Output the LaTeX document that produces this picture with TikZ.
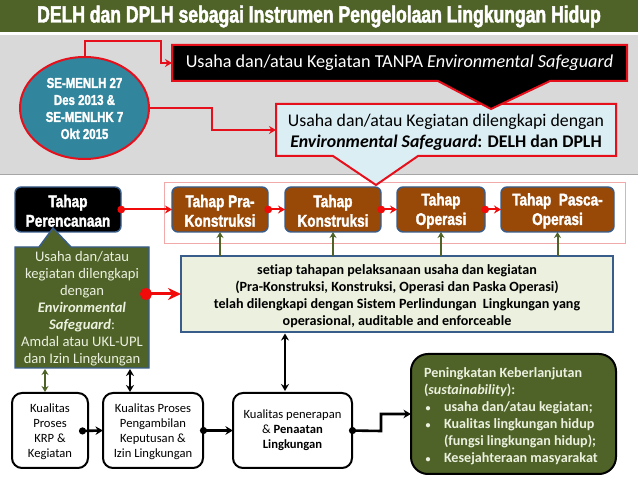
\documentclass[tikz,border=0pt]{standalone}
\usepackage{fontspec}
\setmainfont{Carlito}[Ligatures=NoCommon]
\newfontfamily\cond[FakeStretch=0.75,FakeBold=2]{Liberation Sans Bold}
\newfontfamily\condbox[FakeStretch=0.8,FakeBold=1.8]{Liberation Sans Bold}
\usetikzlibrary{arrows.meta,calc}
\definecolor{olive}{HTML}{4F6228}
\definecolor{panel}{HTML}{D9D9D9}
\definecolor{teal}{HTML}{31859C}
\definecolor{redline}{HTML}{E5101C}
\definecolor{redarrow}{HTML}{F00A0A}
\definecolor{paleblue}{HTML}{DBEEF4}
\definecolor{brown}{HTML}{984807}
\definecolor{steel}{HTML}{385D8A}
\definecolor{palegreen}{HTML}{EBF1DE}
\definecolor{framepink}{HTML}{F2A9A9}
\tikzset{
  x=1pt,y=-1pt,
  every node/.style={inner sep=0pt,outer sep=0pt},
  cond text/.style={text=white,align=center,font=\condbox\fontsize{17}{19.5}\selectfont},
  stagebox/.style={rounded corners=6pt,draw=steel,line width=1.4pt,minimum height=45pt,cond text},
  brownbox/.style={stagebox,fill=brown},
  whitebox/.style={draw=black,line width=2pt,rounded corners=10pt,fill=white,minimum height=75pt,align=center,font=\fontsize{12.6}{15}\selectfont},
  redconn/.style={draw=redline,line width=2pt,-{Stealth[length=7pt,width=8pt]}},
  dotarrow/.style={draw=redarrow,line width=2pt,{Circle[length=7.5pt]}-{Stealth[length=7pt,width=8pt]}},
  olivearrow/.style={draw=olive,line width=2pt,-{Stealth[length=6pt,width=7pt]}},
  olivedouble/.style={draw=olive,line width=2pt,{Stealth[length=6pt,width=7pt]}-{Stealth[length=6pt,width=7pt]}},
  blackdouble/.style={draw=black,line width=2.6pt,{Stealth[length=7pt,width=8pt]}-{Stealth[length=7pt,width=8pt]}},
  blackflow/.style={draw=black,line width=2.6pt,{Circle[length=7pt]}-{Stealth[length=7.5pt,width=8.5pt]}},
}
\newcommand{\bul}{\makebox[20pt][l]{\hspace{1.5pt}\fontsize{10}{10}\selectfont •}}
\newcommand{\toplift}[1]{\rule{0pt}{#1}}
\begin{document}
\begin{tikzpicture}
\useasboundingbox (0,0) rectangle (638,478);
\fill[white] (0,0) rectangle (638,478);
% title band and panel
\fill[olive] (0,0) rectangle (638,32);
\node (title) at (319,16.5) {\cond\fontsize{23.4}{25}\selectfont\textcolor{white}{DELH dan DPLH sebagai Instrumen Pengelolaan Lingkungan Hidup}};
\fill[panel] (0,35) rectangle (638,174);
\fill[black!35] (0,174) rectangle (638,175.5);
% pink frame
\node[draw=framepink,line width=.9pt,fill=white,minimum width=461pt,minimum height=61pt] (frame) at (394.5,212.5) {};
% blue callout
\filldraw[fill=paleblue,draw=redline,line width=2pt,line join=miter]
  (276,104) -- (616,104) -- (616,156) -- (418,156) -- (376,185) -- (333,156) -- (276,156) -- cycle;
\node[align=center,font=\fontsize{17.8}{21}\selectfont] (safe) at (446,130) [minimum width=340pt,minimum height=52pt]
  {\toplift{17pt}Usaha dan/atau Kegiatan dilengkapi dengan\\\textbf{\textit{Environmental Safeguard}: DELH dan DPLH}};
% black callout
\filldraw[fill=black,draw=redline,line width=2pt,line join=miter]
  (172,45) -- (627,45) -- (627,81) -- (550,81) -- (491,109) -- (438,81) -- (172,81) -- cycle;
\node[text=white,font=\fontsize{18.2}{21}\selectfont,minimum width=455pt,minimum height=36pt] (nosafe) at (399.5,63)
  {Usaha dan/atau Kegiatan TANPA \textit{Environmental Safeguard}};
% ellipse
\draw[fill=teal,draw=redline,line width=2pt] (84.5,108) ellipse [x radius=64.5,y radius=51];
\node[minimum width=129pt,minimum height=102pt,text=white,align=center,font=\condbox\fontsize{14.3}{17}\selectfont] (se) at (84.5,108.5)
  {SE-MENLH 27\\Des 2013 \&\\SE-MENLHK 7\\Okt 2015};
\coordinate (setop) at (84.5,57);
\coordinate (seright) at (149,108);
\draw[redconn] (setop) -- (84.5,41) -- (161,41) -- (161,63) -- (nosafe.west);
\draw[redconn] (seright) -- (212,108) -- (212,130) -- (safe.west);
% stage boxes
\node[stagebox,fill=black,minimum width=106pt] (plan) at (68,209.5) {\toplift{15pt}Tahap\\Perencanaan};
\node[brownbox,minimum width=96pt] (pra) at (220,209.5) {\toplift{15pt}Tahap Pra-\\Konstruksi};
\node[brownbox,minimum width=96pt] (kon) at (333,209.5) {\toplift{15pt}Tahap\\Konstruksi};
\node[brownbox,minimum width=88pt] (ops) at (441,209.5) {\toplift{15pt}Tahap\\Operasi};
\node[brownbox,minimum width=113pt] (pasca) at (557.5,209.5) {\toplift{15pt}Tahap\ \ Pasca-\\Operasi};
\draw[dotarrow] (plan.east) ++(-3.5,0) -- (pra.west);
\draw[dotarrow] (pra.east) ++(-3.5,0) -- (kon.west);
\draw[dotarrow] (kon.east) ++(-3.5,0) -- (ops.west);
\draw[dotarrow] (ops.east) ++(-3.5,0) -- (pasca.west);
% left green callout
\filldraw[fill=olive,draw=steel,line width=1.4pt,line join=miter]
  (15,247) -- (39,247) -- (53,228) -- (71,247) -- (149,247) -- (149,368) -- (15,368) -- cycle;
\node[align=center,text=palegreen,font=\fontsize{14.6}{17}\selectfont,minimum width=134pt,minimum height=121pt] (amdal) at (82,307.5)
  {\toplift{13pt}Usaha dan/atau\\kegiatan dilengkapi\\dengan\\\textbf{\textit{Environmental}}\\\textbf{\textit{Safeguard}}:\\Amdal atau UKL-UPL\\dan Izin Lingkungan};
% pale green box
\node[draw=steel,line width=1.4pt,fill=palegreen,minimum width=432pt,minimum height=76pt,align=center,font=\bfseries\fontsize{14.1}{17}\selectfont] (sys) at (397,294)
  {\toplift{14pt}setiap tahapan pelaksanaan usaha dan kegiatan\\(Pra-Konstruksi, Konstruksi, Operasi dan Paska Operasi)\\telah dilengkapi dengan Sistem Perlindungan\ \ Lingkungan yang\\operasional, auditable and enforceable};
\draw[olivearrow] (pra.south |- sys.north) -- (pra.south);
\draw[olivearrow] (kon.south |- sys.north) -- (kon.south);
\draw[olivearrow] (ops.south |- sys.north) -- (ops.south);
\draw[olivearrow] (pasca.south |- sys.north) -- (pasca.south);
\draw[draw=redarrow,line width=3pt,{Circle[length=12pt]}-{Stealth[length=13pt,width=12pt]}] (amdal.east |- sys.west) ++(-9,0) -- (sys.west);
% lower boxes
\node[whitebox,minimum width=76pt] (krp) at (50,430.5) {\toplift{12pt}Kualitas\\Proses\\KRP \&\\Kegiatan};
\node[whitebox,minimum width=100pt] (izin) at (153,430.5) {\toplift{12pt}Kualitas Proses\\Pengambilan\\Keputusan \&\\Izin Lingkungan};
\node[whitebox,minimum width=119pt] (taat) at (292.5,430.5) {Kualitas penerapan\\\& \textbf{Penaatan}\\\textbf{Lingkungan}};
\node[draw=black,line width=2pt,rounded corners=17pt,fill=olive,minimum width=205pt,minimum height=120pt] (hasil) at (513.5,414) {};
\node[anchor=west,text=palegreen,font=\bfseries\fontsize{14.1}{17}\selectfont,align=left] (hasiltxt) at (424,416)
  {Peningkatan Keberlanjutan\\(\textit{sustainability}):\\\bul usaha dan/atau kegiatan;\\\bul Kualitas lingkungan hidup\\\makebox[20pt][l]{}(fungsi lingkungan hidup);\\\bul Kesejahteraan masyarakat};
% lower connectors
\draw[olivedouble] (krp.north -| 45,0) ++(0,-1) -- ++(0,-23);
\draw[blackdouble] (izin.north -| 130,0) ++(0,-1) -- ++(0,-23);
\draw[blackdouble] (taat.north -| sys.south) ++(-112,-2) -- (285,333.5);
\draw[blackflow] (79,431) -- (izin.west);
\draw[blackflow] (izin.east) ++(-3,0) -- (taat.west);
\draw[blackflow] (taat.east) ++(-3,0) -- (381,431) -- (381,414) -- (hasil.west);
\end{tikzpicture}
\end{document}
